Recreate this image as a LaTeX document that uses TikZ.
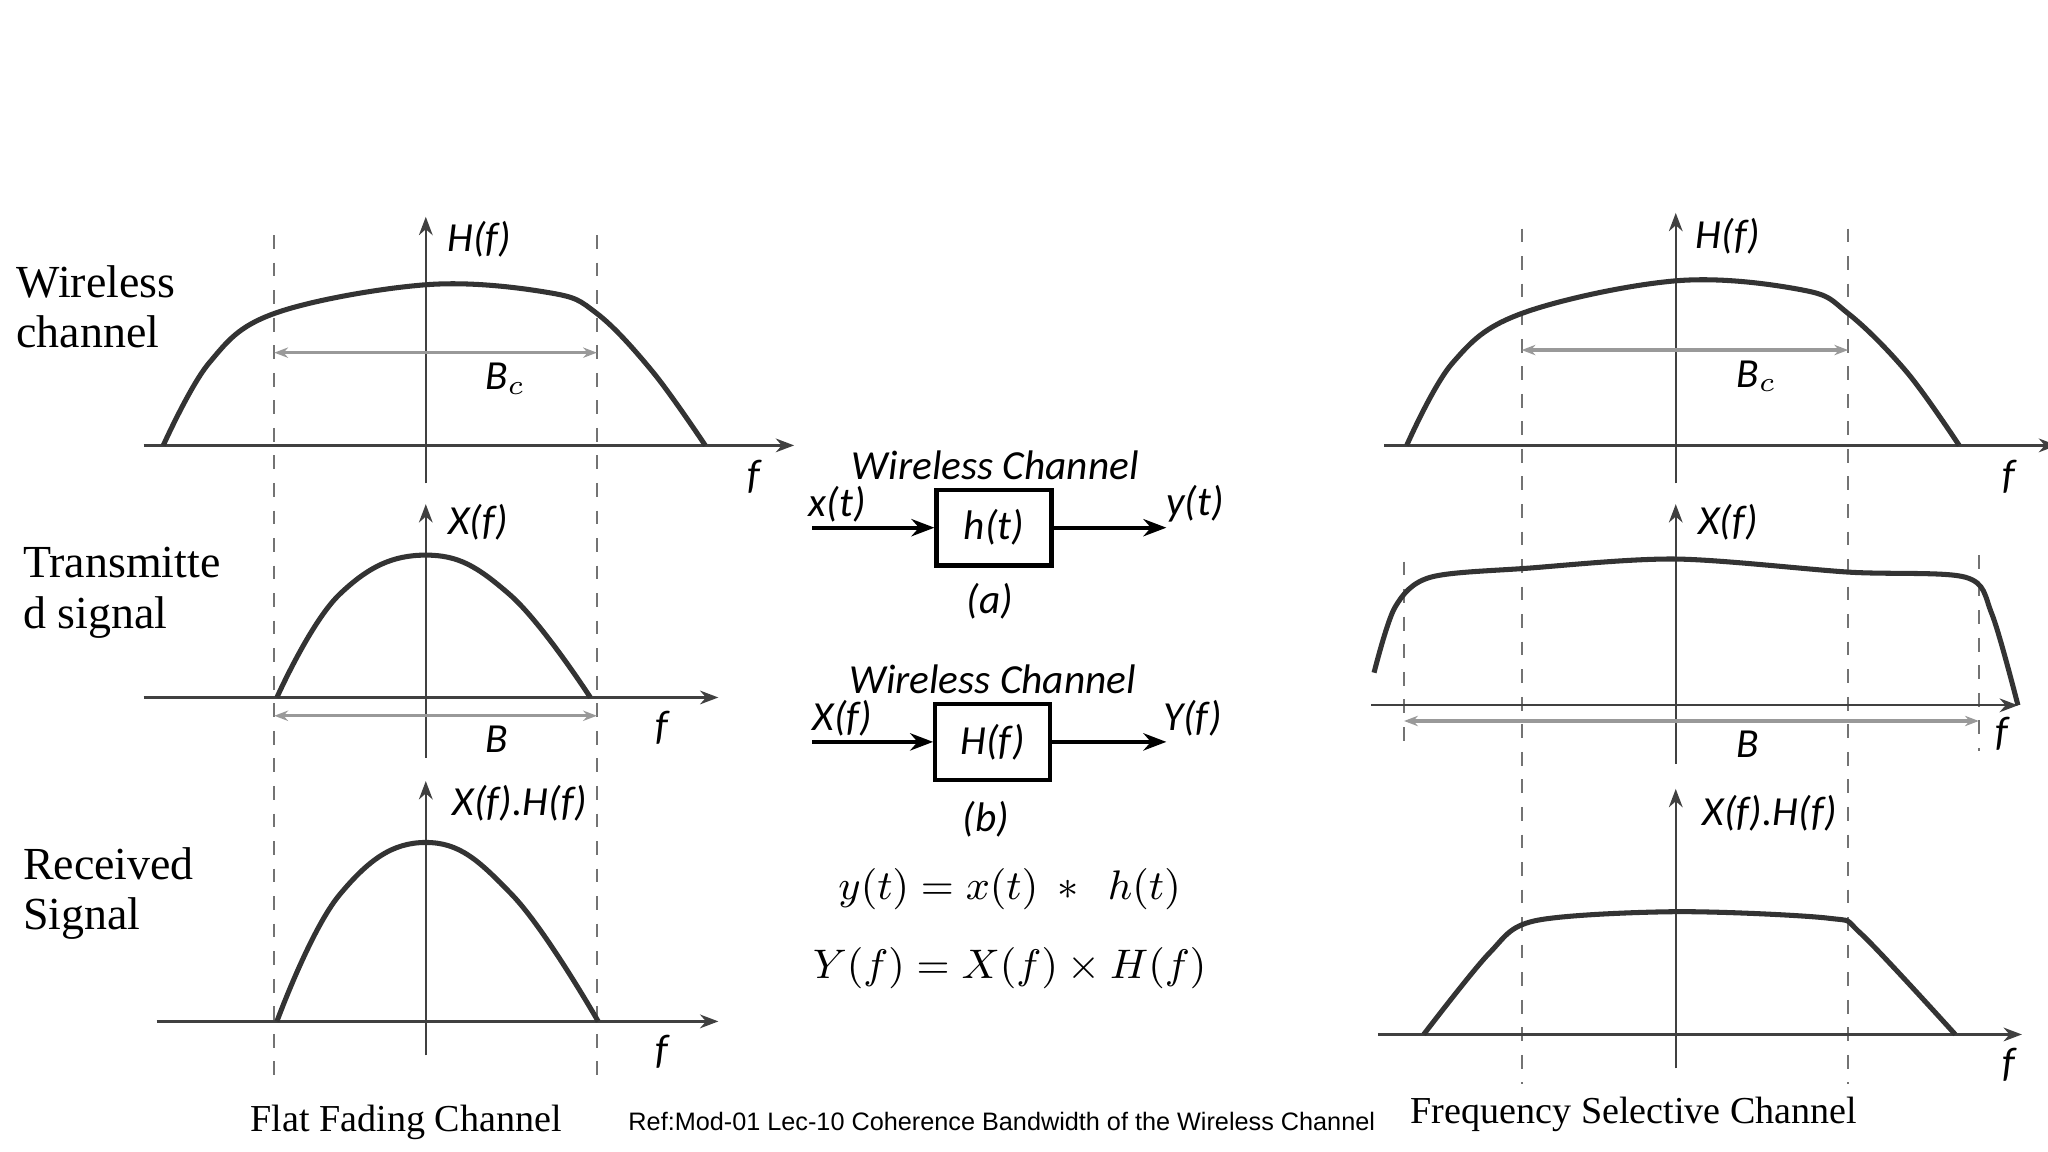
\documentclass[tikz,border=0pt]{standalone}
\usepackage{fontspec}
\setmainfont{Liberation Serif}
\newfontfamily\lab{Carlito}
\newfontfamily\refsans{Liberation Sans}
\usetikzlibrary{arrows.meta}
\begin{document}
\begin{tikzpicture}[x=0.1mm,y=-0.1mm,
 ax/.style={draw=black!75,line width=0.5pt,-{Stealth[length=4pt]}},
 crv/.style={draw=black!80,line width=1.1pt},
 dsh/.style={draw=black!55,dashed,line width=0.4pt},
 bw/.style={draw=black!40,line width=0.7pt,{Stealth[length=3pt]}-{Stealth[length=3pt]}},
 lb/.style={font=\lab\itshape\fontsize{9}{9}\selectfont,inner sep=0},
 side/.style={font=\fontsize{10}{11}\selectfont,align=left,anchor=west,inner sep=0},
 blk/.style={draw,line width=0.9pt,minimum width=8.8mm,minimum height=5.8mm,inner sep=0,font=\lab\itshape\fontsize{9}{9}\selectfont},
 sig/.style={-{Stealth[length=5pt]},line width=0.9pt}]
\useasboundingbox (0,0) rectangle (1568,882);
% left side labels
\node[side] (l1) at (12,235) {Wireless\\channel};
\node[side] (l2) at (17,454) {Transmitte\\d signal};
\node[side] (l3) at (17,684) {Received\\Signal};
% ---- left panels
\draw[dsh] (210,180) -- (210,830);
\draw[dsh] (457,180) -- (457,830);
\draw[ax] (110,341) -- (608,341);
\draw[ax] (326,370) -- (326,166);
\node[lb] (h1) at (367,183) {H(f)};
\draw[crv] plot[smooth,tension=0.6] coordinates {(125,341) (160,278) (210,240) (326,218) (420,224) (457,240) (500,285) (540,341)};
\draw[bw] (210,270) -- (457,270);
\node[lb] (bc1) at (387,290) {B$_c$};
\node[lb] (f1) at (577,365) {f};
\draw[ax] (110,534) -- (550,534);
\draw[ax] (326,580) -- (326,386);
\node[lb] (x1) at (366,400) {X(f)};
\draw[crv] plot[smooth,tension=0.7] coordinates {(212,534) (260,455) (326,425) (390,455) (452,534)};
\draw[bw] (210,548) -- (457,548);
\node[lb] (b1) at (380,566) {B};
\node[lb] (f2) at (507,557) {f};
\draw[ax] (120,782) -- (550,782);
\draw[ax] (326,808) -- (326,598);
\node[lb] (xh1) at (398,615) {X(f).H(f)};
\draw[crv] plot[smooth,tension=0.7] coordinates {(212,782) (260,685) (326,645) (392,685) (458,782)};
\node[lb] (f3) at (507,805) {f};
% ---- middle
\node[lb] (wc1) at (762,356) {Wireless Channel};
\node[blk] (ha) at (761,404) {h(t)};
\coordinate (xa) at (622,404); \coordinate (ya) at (893,404);
\draw[sig] (xa) -- (ha.west);
\draw[sig] (ha.east) -- (ya);
\node[lb] (xt) at (641,386) {x(t)};
\node[lb] (yt) at (915,386) {y(t)};
\node[lb] (ca) at (758,460) {(a)};
\node[lb] (wc2) at (760,520) {Wireless Channel};
\node[blk] (hb) at (760,568) {H(f)};
\coordinate (xb) at (622,568); \coordinate (yb) at (893,568);
\draw[sig] (xb) -- (hb.west);
\draw[sig] (hb.east) -- (yb);
\node[lb] (xf) at (645,550) {X(f)};
\node[lb] (yf) at (913,550) {Y(f)};
\node[lb] (cb) at (755,627) {(b)};
\node[font=\fontsize{8.6}{8.6}\selectfont] (e1) at (773,681) {$y(t) = x(t)\ *\ \ h(t)$};
\node[font=\fontsize{8.6}{8.6}\selectfont] (e2) at (773,741) {$Y(f) = X(f) \times H(f)$};
% ---- right panels
\draw[dsh] (1165,175) -- (1165,830);
\draw[dsh] (1415,175) -- (1415,830);
\draw[ax] (1060,341) -- (1575,341);
\draw[ax] (1283,370) -- (1283,163);
\node[lb] (h2) at (1323,181) {H(f)};
\draw[crv] plot[smooth,tension=0.6] coordinates {(1077,341) (1112,278) (1165,240) (1283,215) (1380,222) (1415,240) (1460,285) (1500,341)};
\draw[bw] (1165,268) -- (1415,268);
\node[lb] (bc2) at (1345,288) {B$_c$};
\node[lb] (f4) at (1538,365) {f};
\draw[dsh] (1075,430) -- (1075,575);
\draw[dsh] (1515,425) -- (1515,575);
\draw[ax] (1050,540) -- (1545,540);
\draw[ax] (1283,585) -- (1283,386);
\node[lb] (x2) at (1323,400) {X(f)};
\draw[crv] plot[smooth,tension=0.5] coordinates {(1052,515) (1068,465) (1095,442) (1170,435) (1283,428) (1415,438) (1505,442) (1525,470) (1545,540)};
\draw[bw] (1075,552) -- (1515,552);
\node[lb] (b2) at (1338,570) {B};
\node[lb] (f5) at (1533,562) {f};
\draw[ax] (1055,792) -- (1548,792);
\draw[ax] (1283,818) -- (1283,604);
\node[lb] (xh2) at (1355,623) {X(f).H(f)};
\draw[crv] plot[smooth,tension=0.5] coordinates {(1090,792) (1140,730) (1175,705) (1283,698) (1400,703) (1425,715) (1497,792)};
\node[lb] (f6) at (1538,815) {f};
% bottom
\node[font=\fontsize{8.3}{8.3}\selectfont] (t1) at (311,859) {Flat Fading Channel};
\node[font=\refsans\fontsize{5.5}{6}\selectfont] (t2) at (767,859) {Ref:Mod-01 Lec-10 Coherence Bandwidth of the Wireless Channel};
\node[font=\fontsize{8.3}{8.3}\selectfont] (t3) at (1251,853) {Frequency Selective Channel};
\end{tikzpicture}
\end{document}
